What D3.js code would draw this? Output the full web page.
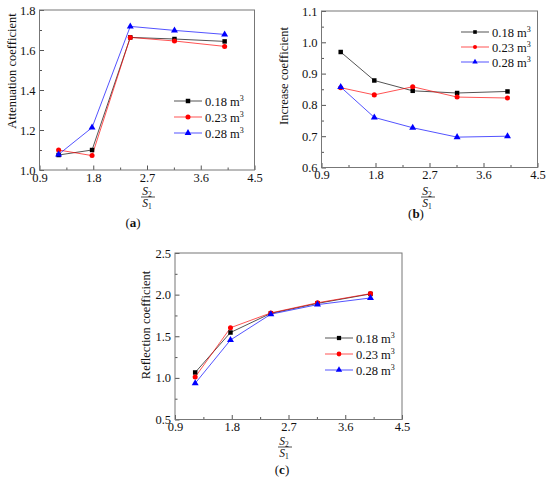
<!DOCTYPE html>
<html>
<head>
<meta charset="utf-8">
<script src="https://cdn.jsdelivr.net/npm/d3@7"></script>
<style>
  body { margin: 0; background: #fff; }
  text { font-family: "Liberation Serif", "Times New Roman", serif; }
</style>
</head>
<body>
<div id="chart"></div>
<script>
// data
const xValues = [1.22, 1.78, 2.42, 3.16, 4.0];
const seriesNames = ["0.18 m", "0.23 m", "0.28 m"];
const seriesColors = ["#000000", "#ff0000", "#0000ff"];
const seriesShapes = [d3.symbolSquare, d3.symbolCircle, d3.symbolTriangle];

const attenuation018 = [1.075, 1.10, 1.663, 1.655, 1.643];
const attenuation023 = [1.10, 1.072, 1.663, 1.645, 1.618];
const attenuation028 = [1.078, 1.212, 1.718, 1.698, 1.678];

const increase018 = [0.969, 0.878, 0.845, 0.838, 0.843];
const increase023 = [0.855, 0.832, 0.858, 0.825, 0.822];
const increase028 = [0.857, 0.760, 0.727, 0.697, 0.700];

const reflection018 = [1.065, 1.545, 1.775, 1.895, 2.008];
const reflection023 = [1.010, 1.602, 1.780, 1.902, 2.012];
const reflection028 = [0.935, 1.455, 1.765, 1.880, 1.960];

const xTicks = [0.9, 1.8, 2.7, 3.6, 4.5];
const yTicksA = [1.0, 1.2, 1.4, 1.6, 1.8];
const yTicksB = [0.6, 0.7, 0.8, 0.9, 1.0, 1.1];
const yTicksC = [0.5, 1.0, 1.5, 2.0, 2.5];

const svg = d3.select("#chart").append("svg")
  .attr("width", 550)
  .attr("height", 486);

// panel layout
const panels = [
  {series: [attenuation018, attenuation023, attenuation028], yTicks: yTicksA,
   title: "Attenuation coefficient", letter: "a",
   left: 39.5, right: 254.5, top: 10, bottom: 170,
   titleX: 12, titleY: 71, legX: 174, legY: [101, 117, 133], legSize: 20,
   fracX: 148, fracY: 191, labX: 133, labY: 227},
  {series: [increase018, increase023, increase028], yTicks: yTicksB,
   title: "Increase coefficient", letter: "b",
   left: 321.5, right: 537.5, top: 11, bottom: 167.5,
   titleX: 284, titleY: 76, legX: 461, legY: [32, 47, 62], legSize: 13,
   fracX: 428, fracY: 191, labX: 416, labY: 218},
  {series: [reflection018, reflection023, reflection028], yTicks: yTicksC,
   title: "Reflection coefficient", letter: "c",
   left: 175, right: 402, top: 253, bottom: 419.5,
   titleX: 146, titleY: 325, legX: 325, legY: [338, 354, 370], legSize: 18,
   fracX: 285, fracY: 441, labX: 282, labY: 474}
];

const fmt = d3.format(".1f");

panels.forEach(p => {
  const g = svg.append("g");
  const yDom = d3.extent(p.yTicks);
  const x = d3.scaleLinear().domain([0.9, 4.5]).range([p.left, p.right]);
  const y = d3.scaleLinear().domain(yDom).range([p.bottom, p.top]);

  // minor ticks (halfway between majors)
  const xMinor = d3.pairs(xTicks).map(d => (d[0] + d[1]) / 2);
  const yMinor = d3.pairs(p.yTicks).map(d => (d[0] + d[1]) / 2);
  g.append("g").attr("transform", "translate(0," + p.bottom + ")")
    .call(d3.axisBottom(x).tickValues(xMinor).tickSize(-2.5).tickFormat(""))
    .call(a => a.select(".domain").remove())
    .selectAll("line").attr("stroke", "#555");
  g.append("g").attr("transform", "translate(" + p.left + ",0)")
    .call(d3.axisLeft(y).tickValues(yMinor).tickSize(-2.5).tickFormat(""))
    .call(a => a.select(".domain").remove())
    .selectAll("line").attr("stroke", "#555");

  // major ticks
  const xa = g.append("g").attr("transform", "translate(0," + p.bottom + ")")
    .call(d3.axisBottom(x).tickValues(xTicks).tickSizeInner(-4.5).tickSizeOuter(0)
      .tickPadding(3).tickFormat(fmt));
  xa.select(".domain").remove();
  xa.selectAll("line").attr("stroke", "#555");
  xa.selectAll("text").attr("font-size", 12.5).attr("fill", "#111")
    .attr("font-family", "Liberation Serif");

  const ya = g.append("g").attr("transform", "translate(" + p.left + ",0)")
    .call(d3.axisLeft(y).tickValues(p.yTicks).tickSizeInner(-4.5).tickSizeOuter(0)
      .tickPadding(4).tickFormat(fmt));
  ya.select(".domain").remove();
  ya.selectAll("line").attr("stroke", "#555");
  ya.selectAll("text").attr("font-size", 12.5).attr("fill", "#111")
    .attr("font-family", "Liberation Serif");

  // frame
  g.append("rect")
    .attr("x", p.left).attr("y", p.top)
    .attr("width", p.right - p.left).attr("height", p.bottom - p.top)
    .attr("fill", "none").attr("stroke", "#777").attr("stroke-width", 1);

  // lines
  const line = d3.line().x((d, i) => x(xValues[i])).y(d => y(d));
  p.series.forEach((s, k) => {
    g.append("path").datum(s)
      .attr("d", line)
      .attr("fill", "none")
      .attr("stroke", seriesColors[k])
      .attr("stroke-opacity", 0.85)
      .attr("stroke-width", 0.8);
  });
  p.series.forEach((s, k) => {
    g.selectAll(null).data(s).enter().append("path")
      .attr("transform", (d, i) => "translate(" + x(xValues[i]) + "," + y(d) + ")")
      .attr("d", d3.symbol().type(seriesShapes[k]).size(k === 2 ? 21 : 20))
      .attr("fill", seriesColors[k]);
  });

  // legend
  seriesNames.forEach((name, k) => {
    const ly = p.legY[k];
    g.append("line")
      .attr("x1", p.legX).attr("x2", p.legX + 28)
      .attr("y1", ly).attr("y2", ly)
      .attr("stroke", seriesColors[k]).attr("stroke-opacity", 0.85)
      .attr("stroke-width", 0.8);
    g.append("path")
      .attr("transform", "translate(" + (p.legX + 14) + "," + ly + ")")
      .attr("d", d3.symbol().type(seriesShapes[k]).size(p.legSize))
      .attr("fill", seriesColors[k]);
    const t = g.append("text")
      .attr("x", p.legX + 31).attr("y", ly + 4.5)
      .attr("font-size", 12.5).attr("fill", "#111")
      .text(name);
    t.append("tspan").attr("dy", -5).attr("font-size", 8).text("3");
  });

  // y title
  g.append("text")
    .attr("transform", "translate(" + p.titleX + "," + p.titleY + ") rotate(-90)")
    .attr("text-anchor", "middle")
    .attr("dy", "0.35em")
    .attr("font-size", 12.5).attr("fill", "#111")
    .text(p.title);

  // x label as fraction S2 / S1
  const top = g.append("text")
    .attr("x", p.fracX - 1).attr("y", p.fracY + 3.5)
    .attr("text-anchor", "middle")
    .attr("font-size", 11.5).attr("font-style", "italic").attr("fill", "#111");
  top.append("tspan").text("S");
  top.append("tspan").attr("font-size", 7.5).attr("font-style", "normal").attr("dy", 2).text("2");
  g.append("line")
    .attr("x1", p.fracX - 7).attr("x2", p.fracX + 7)
    .attr("y1", p.fracY + 6).attr("y2", p.fracY + 6)
    .attr("stroke", "#222").attr("stroke-width", 0.8);
  const bot = g.append("text")
    .attr("x", p.fracX - 1).attr("y", p.fracY + 16)
    .attr("text-anchor", "middle")
    .attr("font-size", 11.5).attr("font-style", "italic").attr("fill", "#111");
  bot.append("tspan").text("S");
  bot.append("tspan").attr("font-size", 7.5).attr("font-style", "normal").attr("dy", 2).text("1");

  // panel letter
  const lab = g.append("text")
    .attr("x", p.labX).attr("y", p.labY)
    .attr("text-anchor", "middle")
    .attr("font-size", 13).attr("fill", "#111");
  lab.append("tspan").text("(");
  lab.append("tspan").attr("font-weight", "bold").text(p.letter);
  lab.append("tspan").text(")");
});
</script>
</body>
</html>
